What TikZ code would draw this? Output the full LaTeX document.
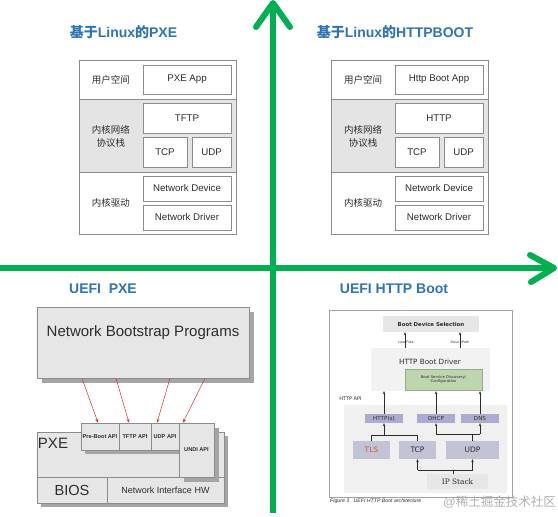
\documentclass[tikz,border=0pt]{standalone}
\usepackage{fontspec}
\setmainfont{Liberation Sans}
\newfontfamily\cjk{Noto Sans CJK SC}
\newfontfamily\dvsans{DejaVu Sans}
\newfontfamily\dvserif{DejaVu Serif}
\usetikzlibrary{arrows.meta,shadows}
\definecolor{axgreen}{RGB}{0,176,80}
\definecolor{ttlblue}{RGB}{46,117,182}
\definecolor{bordergray}{RGB}{140,140,140}
\definecolor{rowgray}{RGB}{228,228,228}
\definecolor{textgray}{RGB}{45,45,45}
\definecolor{boxgray}{RGB}{230,230,230}
\definecolor{shadowgray}{RGB}{165,165,165}
\definecolor{arrred}{RGB}{230,40,40}
\definecolor{lav}{RGB}{172,172,210}
\definecolor{lavgray}{RGB}{195,195,214}
\definecolor{sage}{RGB}{190,214,176}
\definecolor{tlsorange}{RGB}{196,96,58}
\definecolor{wmgray}{RGB}{178,178,178}
\tikzset{
  ttl/.style={text=ttlblue, font=\bfseries\fontsize{14}{16}\selectfont, inner sep=0},
  rowbox/.style={draw=bordergray, line width=0.8, minimum width=157, inner sep=0},
  cell/.style={draw=bordergray, line width=0.8, fill=white, inner sep=0, text=textgray, font=\fontsize{9.7}{12}\selectfont},
  cnlabel/.style={font=\cjk\fontsize{9.5}{13}\selectfont, text=textgray, align=center, inner sep=0},
  pxbox/.style={draw=bordergray, fill=boxgray, line width=0.6, inner sep=0, text=textgray},
  pxshadow/.style={general shadow={fill=shadowgray, shadow xshift=#1, shadow yshift=-#1}},
  apilabel/.style={font=\bfseries\fontsize{5.6}{6}\selectfont},
  redarrow/.style={draw=arrred, line width=0.5, -{Stealth[length=4pt,width=3pt]}},
  brline/.style={draw=textgray, line width=0.6},
  brarrow/.style={brline, -{Stealth[length=3pt,width=2.4pt]}},
  brbox/.style={inner sep=0, text=textgray, font=\dvsans\fontsize{5.6}{6}\selectfont},
  axis/.style={draw=axgreen, line width=6},
  chev/.style={draw=axgreen, line width=6, line cap=round, line join=round},
}
\newcommand\linuxpanel[6]{%
\begin{scope}[xshift=#2]
  \node[ttl] (#1title) at (#6,32) {#3};
  \node[rowbox, minimum height=39] (#1r1) at (157.5,79.5) {};
  \node[rowbox, minimum height=73, fill=rowgray] (#1r2) at (157.5,135.5) {};
  \node[rowbox, minimum height=62] (#1r3) at (157.5,203) {};
  \node[cnlabel] (#1l1) at (111,80) {用户空间};
  \node[cnlabel] (#1l2) at (111,136) {内核网络\\协议栈};
  \node[cnlabel] (#1l3) at (111,203) {内核驱动};
  \node[cell, minimum width=88, minimum height=29] (#1app) at (187,79.5) {#4};
  \node[cell, minimum width=88, minimum height=30] (#1proto) at (187,118) {#5};
  \node[cell, minimum width=44, minimum height=30] (#1tcp) at (165,152) {TCP};
  \node[cell, minimum width=39, minimum height=30] (#1udp) at (211.5,152) {UDP};
  \node[cell, minimum width=88, minimum height=25] (#1dev) at (187,188.5) {Network Device};
  \node[cell, minimum width=88, minimum height=25] (#1drv) at (187,217.5) {Network Driver};
\end{scope}}
\begin{document}
\begin{tikzpicture}[x=1pt,y=-1pt]
\useasboundingbox[fill=white] (0,0) rectangle (558,517);

% axes
\coordinate (vbot) at (273,513);
\coordinate (vtop) at (273,5);
\coordinate (hl) at (0,268);
\coordinate (hr) at (551,268);
\draw[axis] (vbot) -- (vtop);
\draw[chev] (256,27) -- (273,3) -- (290,27);
\draw[axis] (hl) -- (hr);
\draw[chev] (530,255) -- (554,268) -- (531,282);

% top panels
\linuxpanel{L}{0pt}{{\cjk 基于}Linux{\cjk 的}PXE}{PXE App}{TFTP}{123.5}
\linuxpanel{R}{252pt}{{\cjk 基于}Linux{\cjk 的}HTTPBOOT}{Http Boot App}{HTTP}{143}

% bottom left: UEFI PXE
\node[ttl] (bltitle) at (103,289) {UEFI\ \ PXE};
\node[pxbox, pxshadow=5pt, minimum width=212, minimum height=71] (nbp) at (143,342.5) {};
\node[inner sep=0, text=textgray, font=\fontsize{15}{17}\selectfont] (nbpt) at (143,333) {Network Bootstrap Programs};

\node[pxbox, pxshadow=4pt, minimum width=187, minimum height=71] (pxe) at (130.5,467.5) {};
\node[pxbox, minimum width=70, minimum height=26, font=\fontsize{14.6}{16}\selectfont] (bios) at (72,490) {BIOS};
\node[pxbox, minimum width=117, minimum height=26, font=\fontsize{9}{11}\selectfont] (nihw) at (165.5,490) {Network Interface HW};
\node[inner sep=0, text=textgray, font=\fontsize{15}{17}\selectfont] (pxet) at (53,443) {PXE};

\node[pxbox, pxshadow=5pt, minimum width=35, minimum height=54, apilabel] (undi) at (196.5,450) {UNDI API};
\fill[shadowgray] (85,450) rectangle (183,454);
\node[pxbox, minimum width=38, minimum height=27, apilabel] (preboot) at (100,436.5) {Pre-Boot API};
\node[pxbox, minimum width=32, minimum height=27, apilabel] (tftpapi) at (135,436.5) {TFTP API};
\node[pxbox, minimum width=28, minimum height=27, apilabel] (udpapi) at (165,436.5) {UDP API};
\node[pxbox, minimum width=35, minimum height=54, apilabel] (undi2) at (196.5,450) {UNDI API};

\draw[redarrow] (nbp.south -| 82,0) -- (preboot.north -| 98,0);
\draw[redarrow] (nbp.south -| 116,0) -- (tftpapi.north -| 129,0);
\draw[redarrow] (nbp.south -| 170,0) -- (udpapi.north -| 157,0);
\draw[redarrow] (nbp.south -| 205,0) -- (undi2.north -| 183,0);

% bottom right: UEFI HTTP Boot
\node[ttl] (brtitle) at (394,289) {UEFI HTTP Boot};
\node[draw=bordergray!80, line width=0.6, fill=white, minimum width=183, minimum height=187, inner sep=0] (frame) at (420.5,403.5) {};
\node[brbox, fill=boxgray, minimum width=96, minimum height=16, font=\dvsans\bfseries\fontsize{5.4}{6}\selectfont] (bds) at (431,324) {Boot Device Selection};
\node[brbox, fill=black!5, minimum width=119, minimum height=43] (hbd) at (430.5,369.5) {};
\node[brbox, font=\dvsans\fontsize{7.2}{8}\selectfont] (hbdt) at (430,362) {HTTP Boot Driver};
\node[brbox, fill=sage, draw=sage!80!black, line width=0.3, minimum width=77, minimum height=21, align=center, font=\dvsans\fontsize{3.8}{4.6}\selectfont] (bsd) at (443.5,379.5) {Boot Service Discovery/\\Configuration};
\draw[brarrow] (hbd.north -| 405,0) -- (bds.south -| 405,0);
\draw[brarrow] (hbd.north -| 460,0) -- (bds.south -| 460,0);
\node[brbox, font=\dvsans\fontsize{3.3}{4}\selectfont] (lf) at (406,342) {LoadFiles};
\node[brbox, font=\dvsans\fontsize{3.3}{4}\selectfont] (dp) at (460,342) {DevicePath};
\node[brbox, font=\dvsans\fontsize{5}{6}\selectfont] (hapi) at (350.5,399) {HTTP API};
\node[brbox, fill=black!6, minimum width=163, minimum height=88] (area) at (425.5,449) {};
\node[brbox, fill=lav, minimum width=38, minimum height=9] (https) at (384,418.5) {HTTP(s)};
\node[brbox, fill=lav, minimum width=38, minimum height=9] (dhcp) at (436,418.5) {DHCP};
\node[brbox, fill=lav, minimum width=38, minimum height=9] (dns) at (480,418.5) {DNS};
\node[brbox, fill=lavgray, minimum width=37, minimum height=18, text=tlsorange, font=\dvsans\fontsize{7.5}{8}\selectfont] (tls) at (371.5,450) {TLS};
\node[brbox, fill=lavgray, minimum width=37, minimum height=18, font=\dvsans\fontsize{7.5}{8}\selectfont] (tcp) at (417.5,450) {TCP};
\node[brbox, fill=lavgray, minimum width=53, minimum height=18, font=\dvsans\fontsize{7.5}{8}\selectfont] (udp) at (472.5,450) {UDP};
\node[brbox, fill=boxgray, minimum width=61, minimum height=15, font=\dvserif\fontsize{7.4}{8}\selectfont] (ip) at (457.5,481.5) {IP Stack};

\draw[brarrow] (https.north) -- (hbd.south -| https.north);
\draw[brarrow] (dhcp.north) -- (hbd.south -| dhcp.north);
\draw[brarrow] (dns.north) -- (hbd.south -| dns.north);
\draw[brline] (tls.north) -- (tls.north |- 0,435) -- (tcp.north |- 0,435) -- (tcp.north);
\draw[brarrow] (https.south |- 0,435) -- (https.south);
\draw[brline] (udp.north) -- (udp.north |- 0,434);
\draw[brline] (dhcp.south |- 0,434) -- (dns.south |- 0,434);
\draw[brarrow] (dhcp.south |- 0,434) -- (dhcp.south);
\draw[brarrow] (dns.south |- 0,434) -- (dns.south);
\draw[brline] (ip.north -| 453,0) -- (453,470);
\draw[brline] (tcp.south |- 0,470) -- (udp.south |- 0,470);
\draw[brarrow] (tcp.south |- 0,470) -- (tcp.south);
\draw[brarrow] (udp.south |- 0,470) -- (udp.south);

\node[anchor=west, inner sep=0, text=textgray, font=\itshape\fontsize{5.2}{6}\selectfont] (cap) at (330,501) {Figure 3\ \ \ UEFI HTTP Boot architecture};
\node[anchor=east, inner sep=0, text=wmgray, font=\fontsize{12.5}{14}\selectfont] (wm) at (556,502) {@{\cjk 稀土掘金技术社区}};
\end{tikzpicture}
\end{document}
